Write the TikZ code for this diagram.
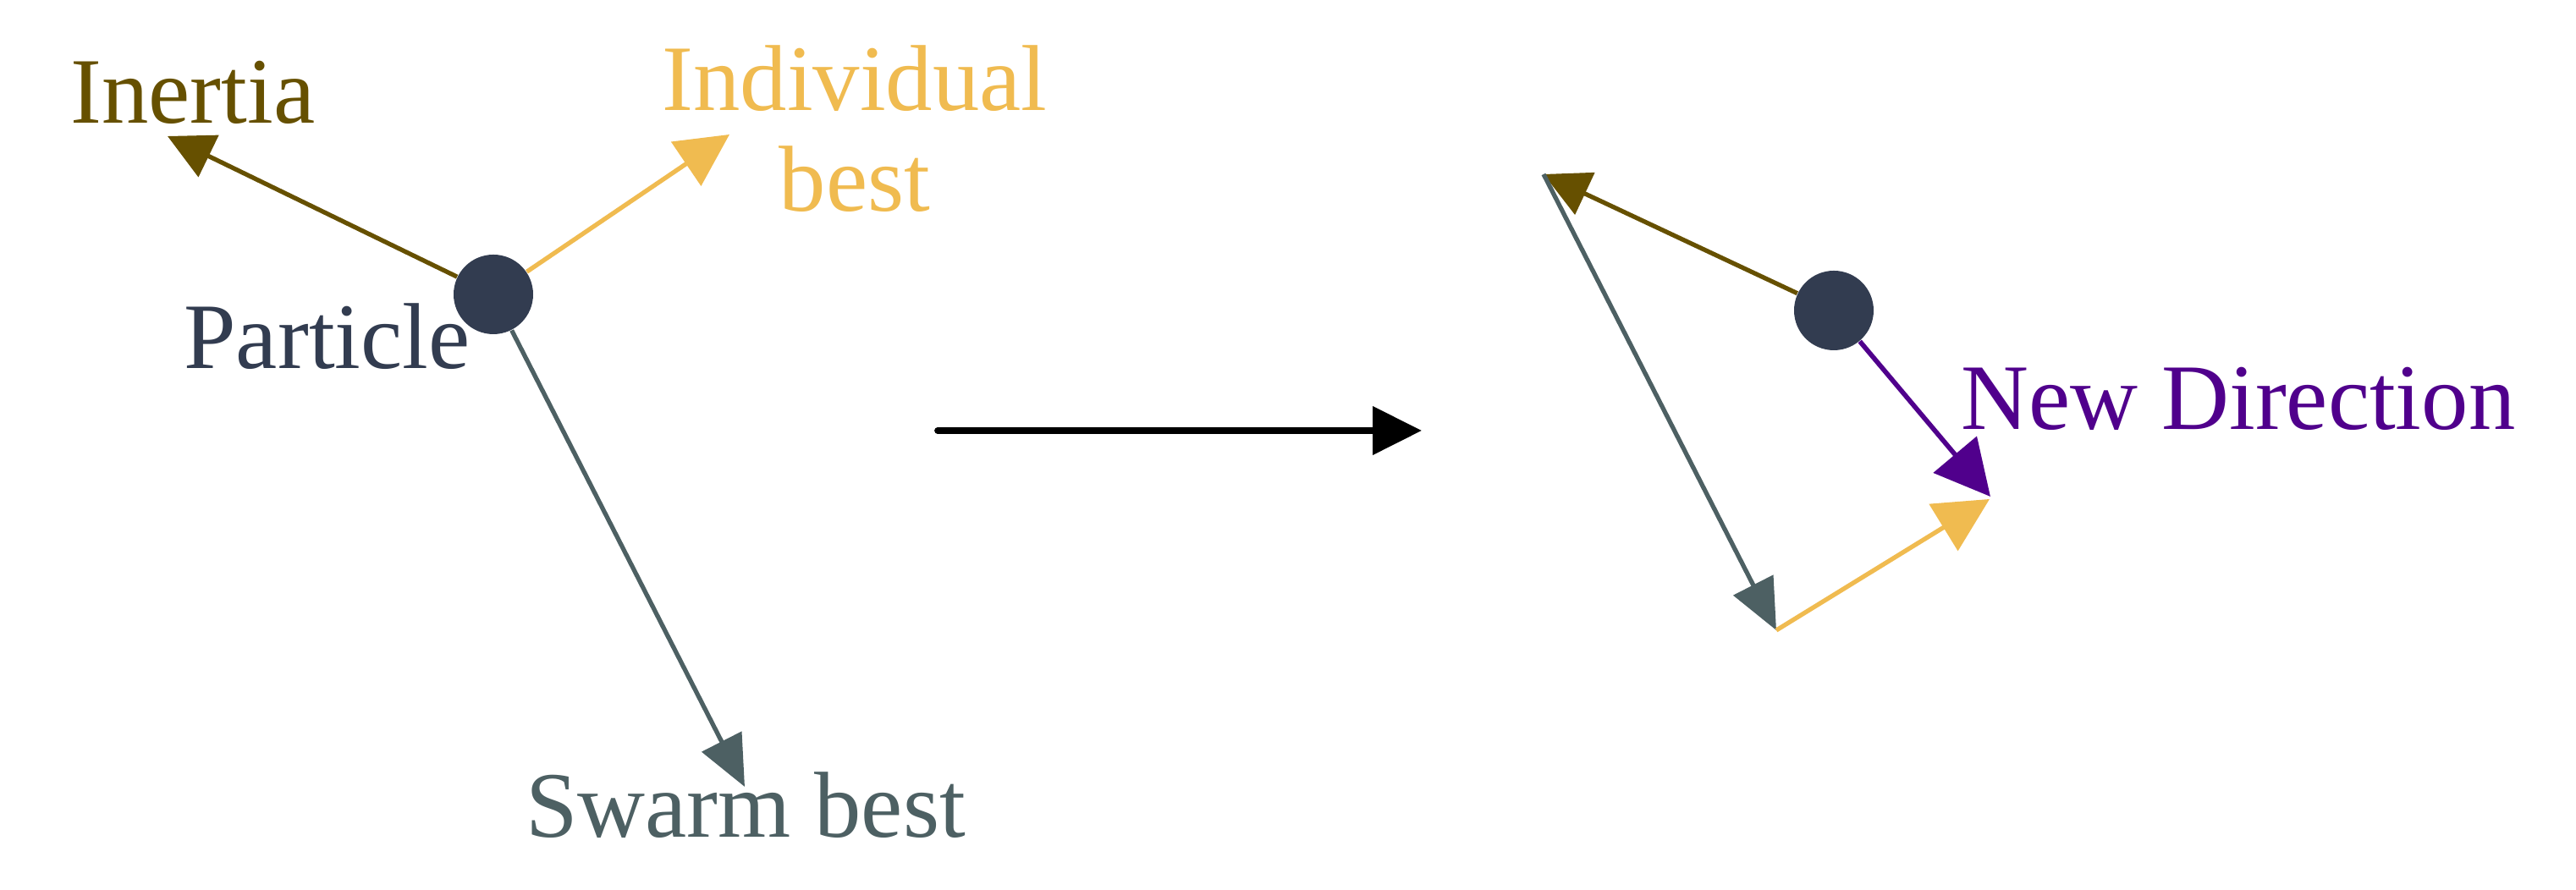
\documentclass[tikz,border=0pt]{standalone}
\usepackage{fontspec}
\setmainfont{Liberation Serif}
\usetikzlibrary{arrows.meta}

\definecolor{inertiac}{RGB}{102,80,0}
\definecolor{indivc}{RGB}{240,187,80}
\definecolor{swarmc}{RGB}{77,96,99}
\definecolor{particlec}{RGB}{50,60,80}
\definecolor{newdirc}{RGB}{80,0,140}

\begin{document}
\begin{tikzpicture}[font=\fontsize{31.5}{34}\selectfont]
\useasboundingbox (0,0) rectangle (30.44,10.52);
\node[shape=circle,fill=particlec,minimum size=0.94cm,inner sep=0pt] (p1) at (5.83,7.04) {};
\node[shape=circle,fill=particlec,minimum size=0.94cm,inner sep=0pt] (p2) at (21.67,6.85) {};

\coordinate (i1) at (1.98,8.91);
\coordinate (b1) at (8.62,8.93);
\coordinate (s1) at (8.80,1.22);
\coordinate (i2) at (18.24,8.46);
\coordinate (s2) at (20.99,3.07);
\coordinate (b2) at (23.51,4.62);
\coordinate (n2) at (23.52,4.65);
\coordinate (a1) at (11.08,5.43);
\coordinate (a2) at (16.80,5.43);

\node[anchor=base,text=inertiac] (li) at (2.28,9.06) {Inertia};
\node[anchor=base,align=center,text=indivc] (lb) at (10.10,8.02) {Individual\\best};
\node[anchor=base,text=particlec] (lp) at (3.865,6.16) {Particle};
\node[anchor=base,text=swarmc] (ls) at (8.81,0.62) {Swarm best};
\node[anchor=base,text=newdirc] (ln) at (26.45,5.44) {New Direction};

\draw [-{Triangle[length=0.54cm,width=0.54cm]},color=inertiac,line width=1.5pt] (p1) -- (i1);
\draw [-{Triangle[length=0.62cm,width=0.62cm]},color=indivc,line width=1.5pt] (p1) -- (b1);
\draw [-{Triangle[length=0.6cm,width=0.52cm]},color=swarmc,line width=1.5pt] (p1) -- (s1);

\draw [-{Triangle[length=0.58cm,width=0.56cm]},color=black,line width=2.2pt,line cap=round] (a1) -- (a2);

\draw [-{Triangle[length=0.54cm,width=0.54cm]},color=inertiac,line width=1.5pt] (p2) -- (i2);
\draw [-{Triangle[length=0.6cm,width=0.52cm]},color=swarmc,line width=1.5pt] (i2) -- (s2);
\draw [-{Triangle[length=0.64cm,width=0.64cm]},color=indivc,line width=1.5pt] (s2) -- (b2);
\draw [-{Triangle[length=0.65cm,width=0.66cm]},color=newdirc,line width=1.6pt] (p2) -- (n2);
\end{tikzpicture}
\end{document}
